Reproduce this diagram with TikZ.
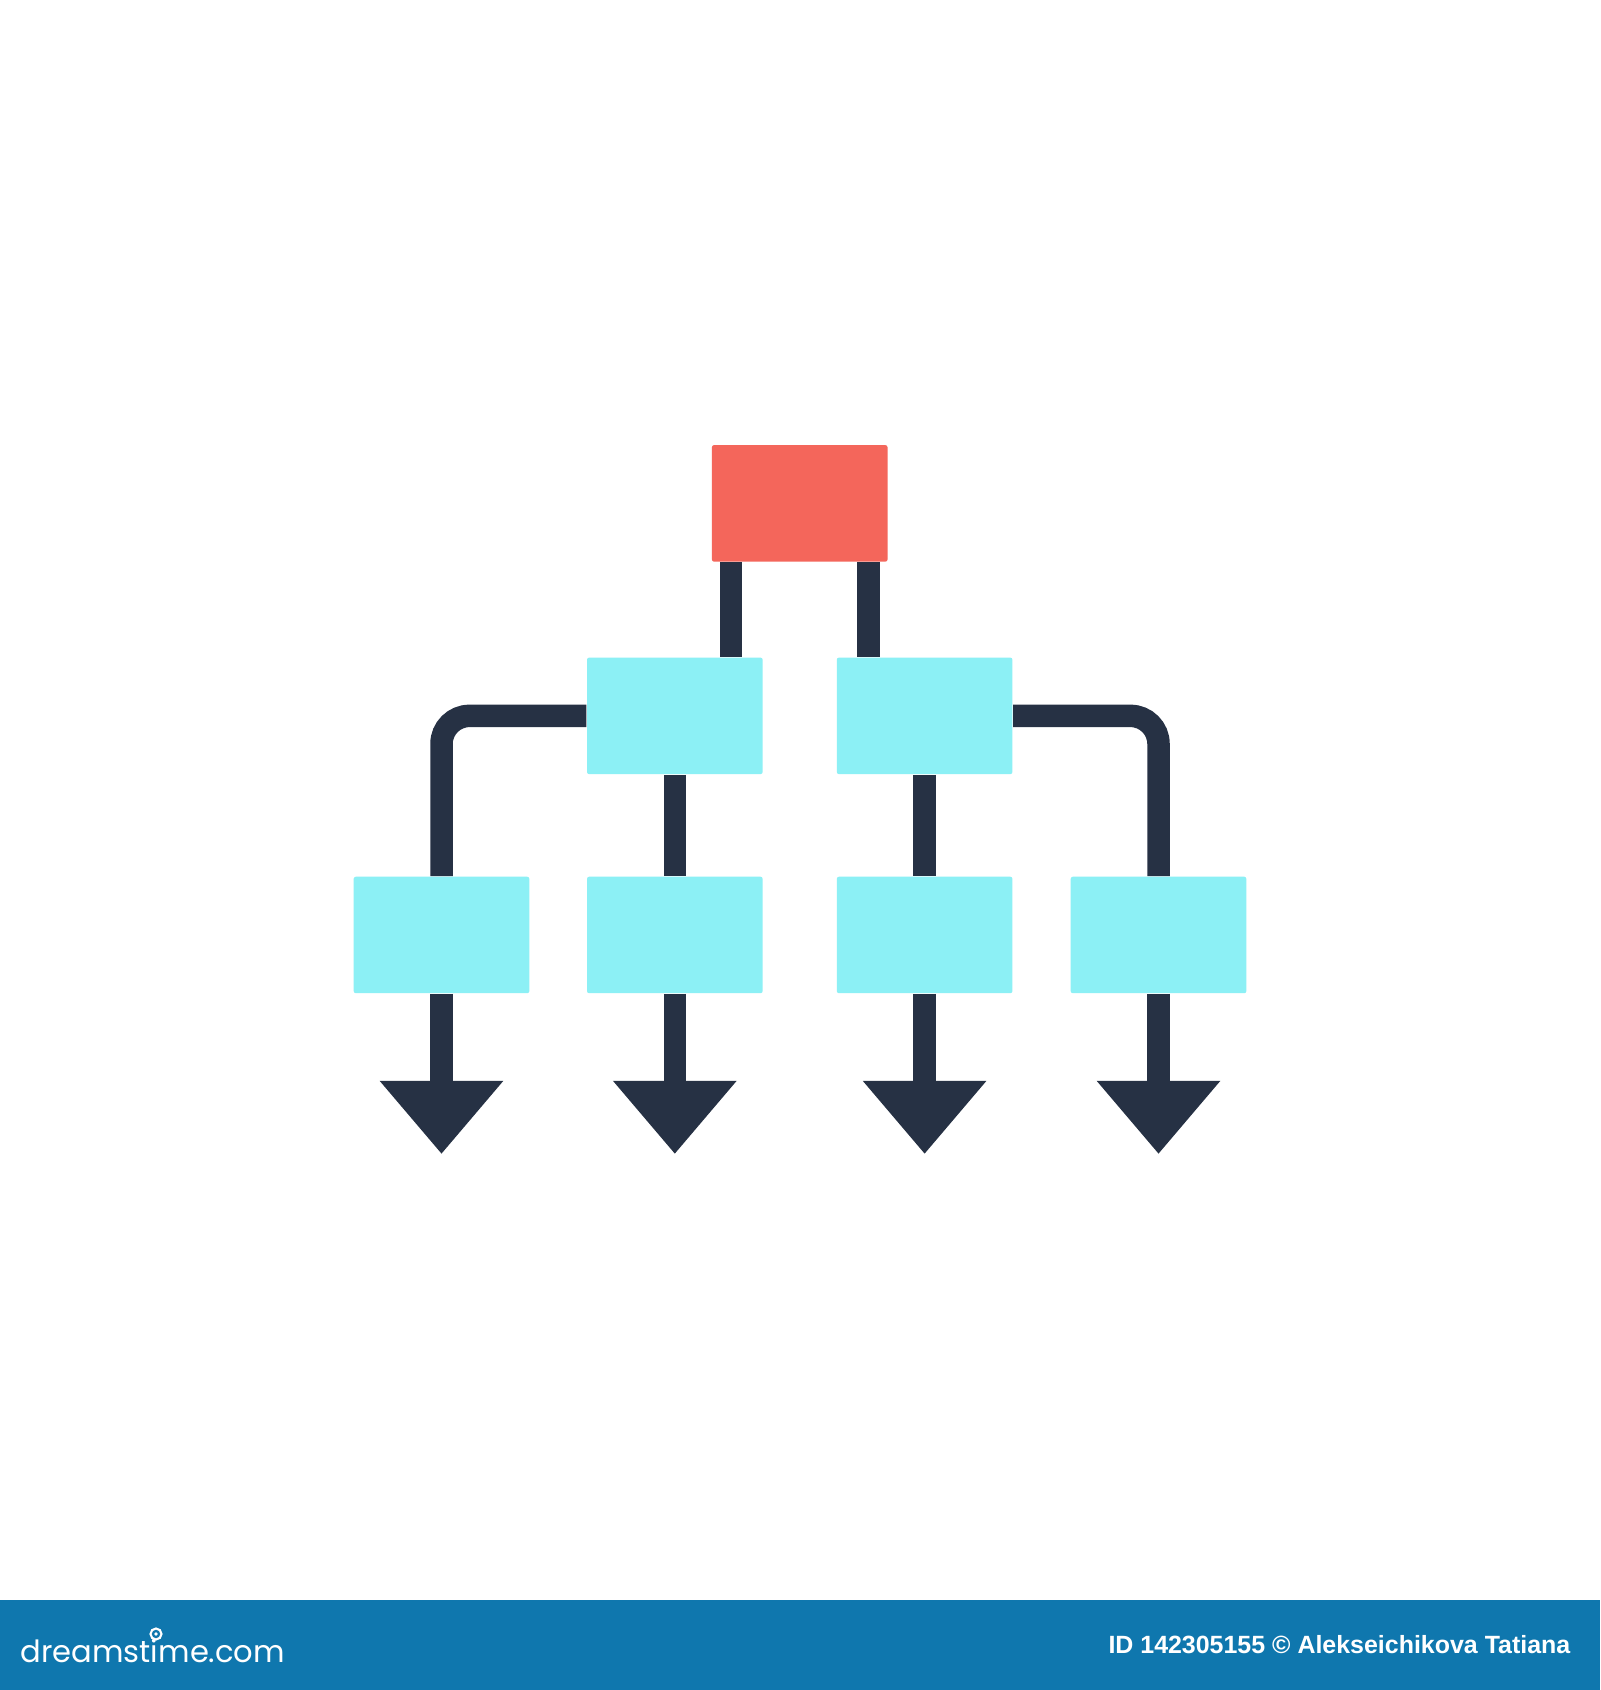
\documentclass[tikz,border=0pt]{standalone}
\usepackage{fontspec}
\setmainfont{Liberation Sans}
\newfontfamily\LogoFont{Poppins}
\usetikzlibrary{arrows.meta}
\definecolor{Navy}{HTML}{263144}
\definecolor{Cyan}{HTML}{8CF0F5}
\definecolor{Coral}{HTML}{F4665B}
\definecolor{Banner}{HTML}{0F77AE}
\tikzset{
  Box/.style={minimum width=1.756cm, minimum height=1.165cm, inner sep=0pt, rounded corners=0.6pt},
  Conn/.style={draw=Navy, line width=6.4pt},
  Arr/.style={Conn, -{Triangle[width=33.8pt,length=20.8pt]}},
}
\begin{document}
\begin{tikzpicture}
    \fill[white] (0,0) rectangle (16,16.9);
    \fill[Banner] (0,0) rectangle (16,0.9);
    %
    \node[Box, fill=Coral] (top) at (7.997,11.866) {};
    \node[Box, fill=Cyan] (l1) at (6.748,9.741) {};
    \node[Box, fill=Cyan] (r1) at (9.246,9.741) {};
    \node[Box, fill=Cyan] (b1) at (4.415,7.55) {};
    \node[Box, fill=Cyan] (b2) at (6.748,7.55) {};
    \node[Box, fill=Cyan] (b3) at (9.246,7.55) {};
    \node[Box, fill=Cyan] (b4) at (11.585,7.55) {};
    %
    \coordinate (s1) at ([xshift=-0.687cm]top.south);
    \coordinate (s2) at ([xshift=0.687cm]top.south);
    \draw[Conn] (s1) -- (s1 |- l1.north);
    \draw[Conn] (s2) -- (s2 |- r1.north);
    \draw[Conn, rounded corners=0.28cm] (l1.west) -| (b1.north);
    \draw[Conn, rounded corners=0.28cm] (r1.east) -| (b4.north);
    \draw[Conn] (l1.south) -- (b2.north);
    \draw[Conn] (r1.south) -- (b3.north);
    %
    \coordinate (e1) at (4.415,5.36);
    \coordinate (e2) at (6.748,5.36);
    \coordinate (e3) at (9.246,5.36);
    \coordinate (e4) at (11.585,5.36);
    \draw[Arr] (b1.south) -- (e1);
    \draw[Arr] (b2.south) -- (e2);
    \draw[Arr] (b3.south) -- (e3);
    \draw[Arr] (b4.south) -- (e4);
    %
    \node[anchor=base west, text=white, inner sep=0pt, font=\LogoFont\fontsize{8.7}{10}\selectfont] (logo) at (0.2,0.27) {dreamstime.com};
    \draw[white, line width=0.6pt] (1.56,0.56) circle (0.055);
    \fill[white] (1.56,0.56) circle (0.018);
    \node[anchor=base east, text=white, inner sep=0pt, font=\bfseries\fontsize{7.1}{8}\selectfont] (credit) at (15.71,0.37) {ID 142305155 © Alekseichikova Tatiana};
  \end{tikzpicture}
\end{document}
